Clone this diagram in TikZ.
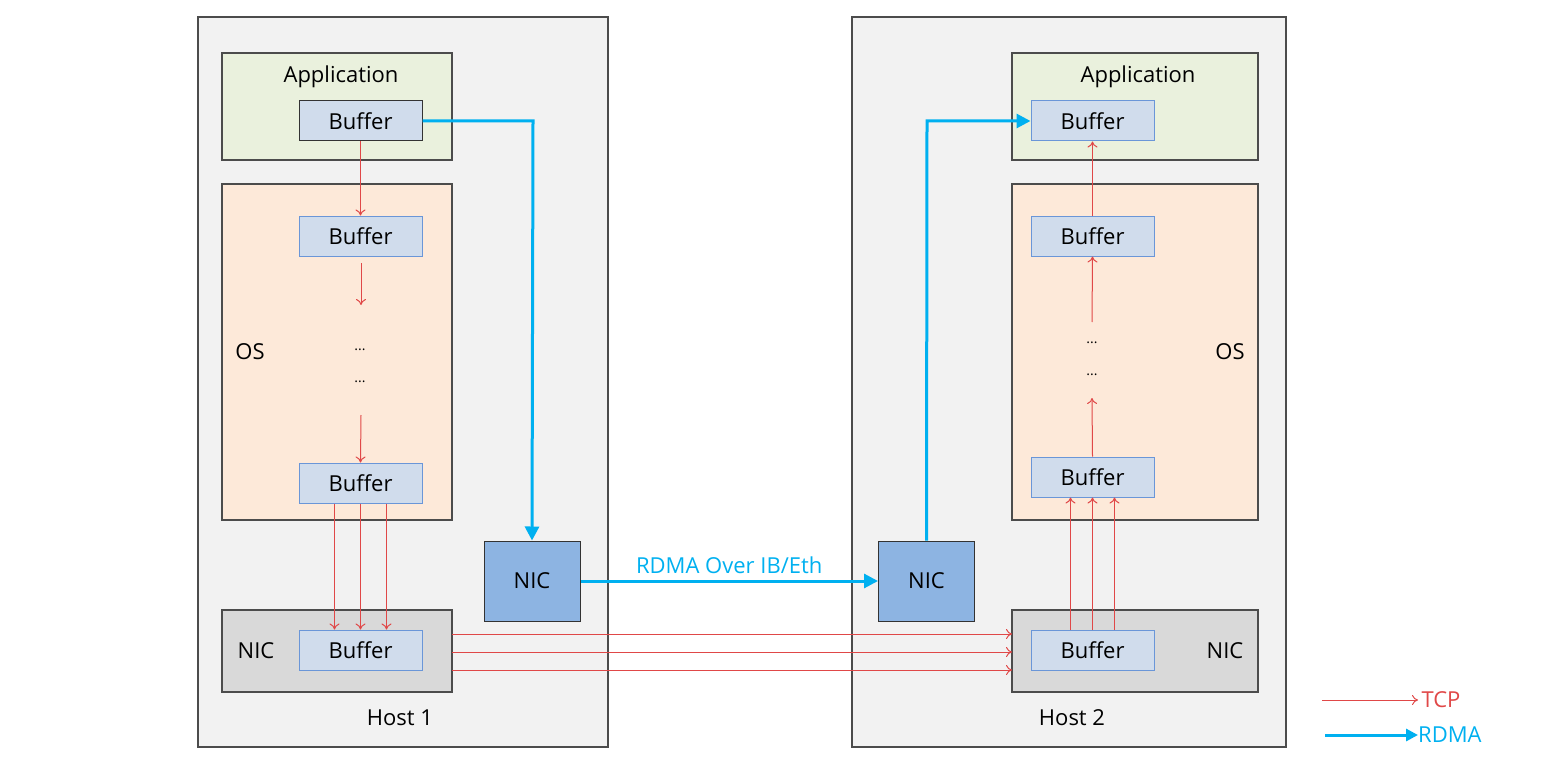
\documentclass[tikz,border=0pt]{standalone}
\usepackage{fontspec}
\setmainfont{Open Sans}
\usetikzlibrary{arrows.meta}
\definecolor{hostc}{HTML}{F2F2F2}
\definecolor{appc}{HTML}{EAF1DD}
\definecolor{osc}{HTML}{FDE9D9}
\definecolor{nicc}{HTML}{D9D9D9}
\definecolor{bufc}{HTML}{D0DCEC}
\definecolor{bufb}{HTML}{6A96D8}
\definecolor{nicb}{HTML}{8DB4E2}
\definecolor{tcp}{HTML}{E04848}
\definecolor{rdma}{HTML}{00B0F0}
\begin{document}
\begin{tikzpicture}[x=1pt,y=-1pt,font=\fontsize{22}{26}\selectfont,
 box/.style={draw=black!70,line width=1.2pt},
 buf/.style={draw=bufb,fill=bufc,line width=1pt,minimum width=123pt,minimum height=40pt,inner sep=0pt},
 bnic/.style={draw=black!80,fill=nicb,line width=1pt,minimum width=96pt,minimum height=80pt,inner sep=0pt},
 tcpa/.style={draw=tcp,line width=1pt,-{To[length=6pt,width=10pt]}},
 rda/.style={draw=rdma,line width=3pt,-{Triangle[length=14pt,width=14pt]}}]
\useasboundingbox (0,0) rectangle (1560,770);
% hosts
\draw[box,fill=hostc] (198,17) rectangle (608,747);
\draw[box,fill=hostc] (852,17) rectangle (1286,747);
\node at (400,718) {Host 1};
\node at (1072,718) {Host 2};
% host 1
\draw[box,fill=appc] (222,53) rectangle (452,160);
\node at (341,77) {Application};
\node[buf,draw=black!80] (a1) at (360.5,121) {Buffer};
\draw[box,fill=osc] (222,184) rectangle (452,520);
\node at (250,352) {OS};
\node[buf] (o1a) at (360.5,236) {Buffer};
\node[buf] (o1b) at (360.5,483) {Buffer};
\node (d1a) at (360,350) {\fontsize{14}{14}\selectfont ...};
\node (d1b) at (360,382) {\fontsize{14}{14}\selectfont ...};
\draw[box,fill=nicc] (222,610) rectangle (452,692);
\node at (256,651) {NIC};
\node[buf] (n1) at (360.5,650) {Buffer};
\node[bnic] (N1) at (532,581) {NIC};
% host 2
\draw[box,fill=appc] (1012,53) rectangle (1258,160);
\node at (1138,77) {Application};
\node[buf] (a2) at (1092.5,121) {Buffer};
\draw[box,fill=osc] (1012,184) rectangle (1258,520);
\node at (1230,352) {OS};
\node[buf] (o2a) at (1092.5,236) {Buffer};
\node[buf] (o2b) at (1092.5,477) {Buffer};
\node at (1092,343) {\fontsize{14}{14}\selectfont ...};
\node at (1092,375) {\fontsize{14}{14}\selectfont ...};
\draw[box,fill=nicc] (1012,610) rectangle (1258,692);
\node at (1225,651) {NIC};
\node[buf] (n2) at (1092.5,650) {Buffer};
\node[bnic] (N2) at (926.5,581) {NIC};
% tcp arrows host1
\draw[tcpa] (a1.south) -- (o1a.north);
\draw[tcpa] (361,263) -- (361,305);
\draw[tcpa] (361,415) -- (o1b.north);
\draw[tcpa] ([xshift=-26pt]o1b.south) -- ([xshift=-26pt]n1.north);
\draw[tcpa] (o1b.south) -- (n1.north);
\draw[tcpa] ([xshift=26pt]o1b.south) -- ([xshift=26pt]n1.north);
% tcp across
\foreach \y in {634,652,670} \draw[tcpa] (452,\y) -- (1012,\y);
% tcp host2
\draw[tcpa] ([xshift=-22pt]n2.north) -- ([xshift=-22pt]o2b.south);
\draw[tcpa] (n2.north) -- (o2b.south);
\draw[tcpa] ([xshift=22pt]n2.north) -- ([xshift=22pt]o2b.south);
\draw[tcpa] (o2b.north) -- (1092,398);
\draw[tcpa] (1092,322) -- (o2a.south);
\draw[tcpa] (o2a.north) -- (a2.south);
% rdma
\draw[rda] (a1.east) -- (533,121) -- (N1.north);
\draw[rda] (N1.east) -- node[above=2pt,text=rdma]{RDMA Over IB/Eth} (N2.west);
\draw[rda] (N2.north) -- (927,121) -- (a2.west);
% legend
\coordinate (l1) at (1322,700); \node[text=tcp,anchor=west] (lt) at (1418,700) {TCP};
\draw[tcpa] (l1) -- (lt.west);
\coordinate (l2) at (1325,735); \node[text=rdma,anchor=west,inner sep=0pt] (lr) at (1418,735) {RDMA};
\draw[draw=rdma,line width=3pt,-{Triangle[length=12pt,width=12pt]}] (l2) -- (lr.west);
\end{tikzpicture}
\end{document}
